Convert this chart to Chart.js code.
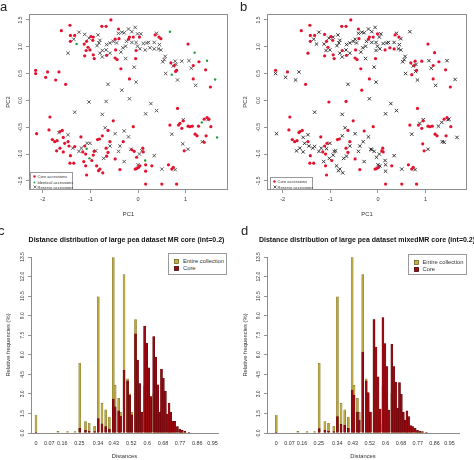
<!DOCTYPE html>
<html><head><meta charset="utf-8">
<script src="https://cdn.jsdelivr.net/npm/chart.js@4.4.1/dist/chart.umd.min.js"></script>
<style>
html,body{margin:0;padding:0;background:#fff;}
body{width:474px;height:460px;position:relative;overflow:hidden;font-family:"Liberation Sans",Arial,Helvetica,sans-serif;color:#222;}
.pane{position:absolute;}
.pane canvas{display:block;}
.letter{position:absolute;font-size:13px;line-height:13px;color:#222;}
.title{position:absolute;font-weight:bold;font-size:7px;line-height:8px;white-space:nowrap;color:#111;transform:translateX(-50%);}
.leg{position:absolute;border:1px solid #9a9a9a;background:#fff;box-sizing:border-box;}
.leg .row{position:absolute;white-space:nowrap;color:#333;}
.leg svg{position:absolute;}
</style></head><body>

<div class="pane" style="left:0;top:0;width:237px;height:225px"><canvas id="ca" width="237" height="225"></canvas></div>
<div class="pane" style="left:237px;top:0;width:237px;height:225px"><canvas id="cb" width="237" height="225"></canvas></div>
<div class="pane" style="left:0;top:225px;width:237px;height:235px"><canvas id="cc" width="237" height="235"></canvas></div>
<div class="pane" style="left:237px;top:225px;width:237px;height:235px"><canvas id="cd" width="237" height="235"></canvas></div>

<div class="letter" style="left:0;top:0">a</div>
<div class="letter" style="left:240px;top:0">b</div>
<div class="letter" style="left:-2px;top:224px">c</div>
<div class="letter" style="left:241px;top:224px">d</div>

<div class="title" style="left:126.5px;top:236px">Distance distribution of large pea dataset MR core (int=0.2)</div>
<div class="title" style="left:367px;top:236px">Distance distribution of large pea dataset mixedMR core (int=0.2)</div>

<div class="leg" style="left:30px;top:171.5px;width:43px;height:18px;font-size:4px;line-height:5px">
  <svg style="left:2px;top:2.5px" width="3" height="3"><circle cx="1.5" cy="1.5" r="1.2" fill="#e3122f"/></svg>
  <div class="row" style="left:6.5px;top:1.5px">Core accessions</div>
  <svg style="left:2px;top:8px" width="3" height="3"><circle cx="1.5" cy="1.5" r="0.9" fill="#1f9a3c"/></svg>
  <div class="row" style="left:6.5px;top:7px">Identical accessions</div>
  <svg style="left:1.5px;top:12.5px" width="4" height="4"><path d="M0.5 0.5L3.5 3.5M3.5 0.5L0.5 3.5" stroke="#555" stroke-width="0.8"/></svg>
  <div class="row" style="left:6.5px;top:12.3px">Reserve accessions</div>
</div>
<div class="leg" style="left:270px;top:176.5px;width:43px;height:13px;font-size:4px;line-height:5px">
  <svg style="left:2px;top:2.5px" width="3" height="3"><circle cx="1.5" cy="1.5" r="1.2" fill="#e3122f"/></svg>
  <div class="row" style="left:6.5px;top:1.5px">Core accessions</div>
  <svg style="left:1.5px;top:7.5px" width="4" height="4"><path d="M0.5 0.5L3.5 3.5M3.5 0.5L0.5 3.5" stroke="#333" stroke-width="0.8"/></svg>
  <div class="row" style="left:6.5px;top:7px">Reserve accessions</div>
</div>

<div class="leg" style="left:168px;top:253px;width:59px;height:22px;font-size:5.8px;line-height:7px">
  <svg style="left:5px;top:5px" width="5" height="5"><rect x="0.5" y="0.5" width="4" height="4" fill="#c4b04a" stroke="#6f6420" stroke-width="0.8"/></svg>
  <div class="row" style="left:14px;top:4px">Entire collection</div>
  <svg style="left:5px;top:12px" width="5" height="5"><rect x="0.5" y="0.5" width="4" height="4" fill="#9c0a14" stroke="#4a0508" stroke-width="0.8"/></svg>
  <div class="row" style="left:14px;top:11px">Core</div>
</div>
<div class="leg" style="left:407.5px;top:254px;width:59px;height:21px;font-size:5.8px;line-height:7px">
  <svg style="left:5px;top:4.5px" width="5" height="5"><rect x="0.5" y="0.5" width="4" height="4" fill="#c4b04a" stroke="#6f6420" stroke-width="0.8"/></svg>
  <div class="row" style="left:14px;top:3.5px">Entire collection</div>
  <svg style="left:5px;top:11.5px" width="5" height="5"><rect x="0.5" y="0.5" width="4" height="4" fill="#9c0a14" stroke="#4a0508" stroke-width="0.8"/></svg>
  <div class="row" style="left:14px;top:10.5px">Core</div>
</div>

<script>
// ---------- PCA scatter data (panels a, b) ----------
const pc1 = [
 -0.57,-1.43,-1.61,-0.76,-0.67,-0.41,-1.42,-1.33,-1.42,-1.08,-0.99,-0.95,-0.94,-0.48,-0.40,-0.18,-0.20,-0.10,0.03,0.36,0.44,0.48,-1.13,-1.05,-1.09,-1.12,-1.01,-0.94,-0.92,-0.66,-0.48,-0.47,-0.44,-0.36,-0.05,-0.04,-2.15,-2.15,-1.90,-1.94,-1.73,-1.66,-1.52,-0.18,0.69,0.76,0.81,0.79,0.83,1.05,1.16,1.16,1.28,1.42,1.52,
 -1.24,-1.12,-1.03,-1.35,-1.47,-0.84,-0.80,-0.82,-0.86,-0.75,-0.80,-0.75,-0.66,-0.59,-0.67,-0.59,-0.52,-0.45,-0.41,-0.34,-0.29,-0.20,-0.13,-0.06,-0.01,0.06,-0.26,-0.32,-0.36,-0.24,-0.13,-0.04,-0.01,0.04,0.11,0.18,0.22,0.15,0.25,0.34,0.34,0.39,0.45,0.43,0.48,0.57,0.55,0.52,0.58,0.74,0.78,0.80,0.83,0.92,1.07,1.12,1.21,-0.08,-0.26,-0.63,-0.34,-0.04,-0.18,-0.67,-1.03,0.27,0.39,0.16,-1.33,-0.75,
 -1.29,1.19,1.45,0.71,1.62,0.67,-1.02,0.15,1.34,1.66,-1.08,
 -2.13,-1.85,-1.87,-1.80,-1.75,-1.70,-1.64,-1.59,-1.57,-1.54,-1.47,-1.45,-1.71,-1.64,-1.57,-1.42,-1.43,-1.35,-1.33,-1.20,-1.12,-1.16,-1.10,-1.14,-1.10,-1.08,-0.97,-0.92,-0.94,-0.85,-0.81,-0.75,-0.87,-0.80,-0.83,-0.74,-0.67,-0.59,-0.63,-0.66,-0.52,-0.63,-0.48,-0.38,-0.31,-0.13,-0.08,-0.10,-0.03,0.10,0.11,-0.06,-0.03,0.01,0.04,0.16,0.16,0.16,0.29,0.50,0.67,0.64,0.71,0.74,0.81,0.85,0.88,0.92,0.95,0.97,1.05,1.09,1.14,1.20,1.24,1.27,1.39,1.45,1.49,1.53,1.43,1.39,
 -1.66,-1.47,-1.37,-1.24,-1.19,-1.07,-1.01,-0.89,-0.72,-0.59,-0.41,-0.38,-0.29,-0.15,0.03,0.00,0.08,0.34,0.50,0.71,0.78,0.95,0.94,1.05,1.35,1.47,-0.69,-0.48,-0.29,-0.20
];
const pc2 = [
 1.50,1.40,1.30,1.38,1.38,1.33,1.21,1.21,1.10,1.10,1.19,1.12,1.18,1.14,1.15,1.18,1.14,1.18,1.18,1.22,1.18,1.15,1.05,0.99,0.93,0.83,0.94,0.85,0.78,0.84,0.79,0.94,0.76,0.59,0.78,0.93,0.56,0.50,0.53,0.43,0.38,0.53,0.30,0.40,0.70,0.65,0.56,0.54,-0.15,1.05,0.65,0.40,0.72,0.57,0.25,
 1.27,1.23,1.16,1.14,0.88,1.22,1.12,1.07,1.02,0.93,0.88,0.81,1.04,1.07,0.94,0.88,1.10,1.07,1.25,1.27,1.26,1.33,1.28,1.36,1.24,1.24,1.01,0.98,0.90,1.10,1.08,1.08,1.01,0.96,1.06,1.07,1.08,0.94,0.98,1.08,0.96,1.25,1.04,0.96,0.94,0.82,0.76,0.72,0.50,0.64,0.73,0.67,0.38,0.73,0.74,0.60,0.28,0.62,0.78,0.30,0.19,0.34,0.03,-0.02,-0.03,-0.06,-0.19,-0.25,-0.22,-0.26,
 1.05,0.89,0.74,0.48,0.39,1.28,-1.08,-1.12,-0.41,-0.69,-0.90,
 -0.62,-0.31,-0.55,-0.73,-0.77,-0.75,-0.58,-0.56,-0.69,-0.80,-0.77,-0.85,-0.94,-0.89,-0.96,-1.03,-1.17,-1.17,-0.86,-0.68,-0.85,-0.96,-1.00,-1.14,-1.22,-1.39,-1.12,-0.95,-1.02,-0.73,-0.72,-0.66,-1.22,-1.28,-1.31,-1.35,-0.89,-0.77,-0.97,-1.04,-0.38,-0.56,-1.09,-1.29,-0.77,-0.92,-0.95,-0.49,-1.06,-0.89,-0.96,-1.28,-1.27,-1.25,-1.22,-1.20,-1.32,-1.56,-1.22,-1.56,-0.46,-1.20,-1.28,-1.25,-1.56,-0.46,-0.43,-0.52,-0.38,-0.94,-0.48,-0.49,-0.48,-0.63,-0.66,-0.48,-0.35,-0.32,-0.35,-0.49,-0.66,-0.78,
 -0.60,-0.64,-0.89,-0.95,-0.89,-0.80,-0.80,-0.94,-1.08,-0.85,-0.95,-0.85,-1.14,-0.91,-1.00,-1.20,-0.94,-1.03,-1.28,-0.63,-1.29,-0.36,-0.81,-0.91,-0.77,-0.36,-0.51,-0.62,-0.57,-0.68
];
// C = core, I = identical, R = reserve
const groupMR = ("CCCCC CCCCC CCCCC CCCCC CCCCC CCCCC CCCCC CCCCC CCCCC CCCCC CCCCC " +
 "RRRRR RRRRR RRRRR RRRRR RRRRR RRRRR RRRRR RRRRR RRRRR RRRRR RRRRR RRRRR RRRRR RRRRR " +
 "IIIII IIIII I " +
 "CCCCC CCCCC CCCCC CCCCC CCCCC CCCCC CCCCC CCCCC CCCCC CCCCC CCCCC CCCCC CCCCC CCCCC CCCCC CCCCC CC " +
 "RRRRR RRRRR RRRRR RRRRR RRRRR RRRRR").replace(/ /g,'').split('');
const groupMixedMR = ("CCCCCCCCCCCC" + "RRCCCCRCCRRCRCRCCCCCCCCRCRCRRRCCCCCRCCCCCCC" +
 "RCRRCRRRRC" + "RRRRRRRRRRRRRR" + "C" + "RRRRRRRRRRRR" + "CCRC" + "RRRRRRRRR" + "CRRC" + "RRRRRR" + "CRRCC" + "RRRRR" +
 "RCRCRRRRRRR" +
 "R"+"CCCCCCC"+"RR"+"C"+"RRRR"+"CCC"+"R"+"CCCC"+"R"+"CCC"+"RR"+"CC"+"RRRRR"+"CCC"+"R"+"CCCC"+"RRR"+"C"+"R"+"CCCCC"+"RRR"+"CCCCCCCCC"+"R"+"CCCCCCCC"+"R"+"CC"+"R"+"CC"+"R" +
 "CRRRRCRRRRRRRRRRCRRRRRCRRRRRCR").split('');
const pcXTicks = [-2, -1, 0, 1];
const pcYTicks = [-1.5, -1, -0.5, 0, 0.5, 1, 1.5];

// ---------- distance histograms (panels c, d) ----------
const binPos = [0, 11.8, 17, 21, 23.6, 26.7, 28.7, 31.6, 33.6, 35.6, 37.6, 39.6, 41.7, 42.7, 44.6, 45.6, 47.5, 49.4, 50.5, 51.7, 53.7, 54.8, 55.9, 57.1, 58.6, 59.7, 60.8, 61.9, 63.5, 64.6, 65.7, 66.7, 67.7, 68.7, 69.8, 70.9, 71.8, 72.7, 73.8, 74.9, 76.3, 77.6, 78.9, 80.3, 82.5];
const entireCollection = [1.38, 0.13, 0.1, 0.1, 5.35, 0.88, 0.75, 0.52, 10.45, 2.27, 1.77, 1.22, 13.45, 3.65, 2.65, 1.58, 12.15, 4.15, 3.0, 1.6, 8.7, 2.6, 1.7, 0.7, 3.6, 3.0, 2.2, 0.8, 3.0, 2.3, 1.6, 0.7, 1.7, 1.3, 0.7, 0.45, 0.75, 0.55, 0.25, 0.22, 0.15, 0.09, 0.06, 0.04, 0.02];
const coreMR = [0.05, 0, 0, 0, 0.35, 0.2, 0.15, 0.1, 1.1, 0.7, 0.5, 0.3, 2.6, 2.0, 1.7, 1.3, 4.8, 4.0, 2.9, 1.4, 7.6, 5.6, 3.8, 1.6, 8.2, 6.9, 5.0, 2.8, 7.4, 5.8, 3.7, 1.6, 4.9, 4.2, 3.2, 1.45, 2.3, 1.6, 0.9, 0.9, 0.5, 0.3, 0.2, 0.12, 0.05];
const coreMixedMR = [0.05, 0, 0, 0, 0.33, 0.2, 0.15, 0.1, 1.25, 0.66, 0.6, 0.35, 3.3, 2.9, 1.6, 1.0, 6.2, 4.0, 3.1, 1.6, 8.7, 6.6, 4.3, 1.84, 8.85, 6.85, 5.1, 1.76, 6.8, 5.1, 3.9, 1.9, 3.86, 2.97, 1.6, 1.0, 1.7, 1.25, 0.56, 0.5, 0.35, 0.2, 0.15, 0.1, 0.05];
const distTickPos = [0, 7.2, 14.1, 23.4, 33.5, 42, 51.4, 60, 68.5, 77.7, 87, 95.2];
const distTickLabels = ['0','0.07','0.16','0.25','0.34','0.43','0.52','0.6','0.68','0.77','0.86','0.95'];
const freqTicks = [0, 1.5, 3, 4.5, 6, 7.5, 9, 10.5, 12, 13.5];

const F = '"Liberation Sans", Arial, sans-serif';
Chart.defaults.font.family = F;
Chart.defaults.color = '#333';

const boxPlugin = {id:'box', afterDraw(c){
  const {ctx, chartArea:a} = c;
  ctx.save(); ctx.strokeStyle = '#8c8c8c'; ctx.lineWidth = 1;
  ctx.strokeRect(Math.round(a.left)+0.5, Math.round(a.top)+0.5, Math.round(a.right-a.left)-1, Math.round(a.bottom-a.top)-1);
  ctx.restore();
}};

function scatterPanel(id, groups, opt){
  const pts = g => pc1.map((x,i)=>({x:x, y:pc2[i]})).filter((p,i)=>groups[i]===g);
  const ds = [
    {label:'Core accessions', data:pts('C'), pointStyle:'circle', pointRadius:1.6, backgroundColor:'#e3122f', borderWidth:0},
  ];
  if (opt.identical) ds.push({label:'Identical accessions', data:pts('I'), pointStyle:'circle', pointRadius:1.2, backgroundColor:'#1f9a3c', borderWidth:0});
  ds.push({label:'Reserve accessions', data:pts('R'), pointStyle:'crossRot', pointRadius:2.4, borderColor:opt.cross, borderWidth:0.9, backgroundColor:'rgba(0,0,0,0)'});
  return new Chart(document.getElementById(id), {
    type:'scatter',
    data:{datasets:ds},
    options:{
      responsive:false, animation:false, devicePixelRatio:1,
      layout:{padding:{top:14, right:opt.padRight, left:0, bottom:0}},
      plugins:{legend:{display:false}, tooltip:{enabled:false}},
      scales:{
        x:{type:'linear', min:opt.xMin, max:opt.xMax,
           afterBuildTicks:s=>{s.ticks = pcXTicks.map(v=>({value:v}));},
           afterFit:s=>{s.height = 35;},
           ticks:{callback:v=>String(v), font:{size:5.6}, color:'#333', padding:3, maxRotation:0, autoSkip:false},
           grid:{drawOnChartArea:false, tickLength:3, color:'#777', lineWidth:0.8},
           border:{display:false},
           title:{display:true, text:'PC1', font:{size:5.8}, color:'#333', padding:{top:0, bottom:7}}},
        y:{type:'linear', min:-1.67, max:1.61,
           afterBuildTicks:s=>{s.ticks = pcYTicks.map(v=>({value:v}));},
           afterFit:s=>{s.width = opt.yWidth;},
           ticks:{callback:v=>v.toFixed(1), minRotation:90, maxRotation:90, crossAlign:'center', font:{size:5}, color:'#333', padding:1, autoSkip:false},
           grid:{drawOnChartArea:false, tickLength:3, color:'#777', lineWidth:0.8},
           border:{display:false},
           title:{display:true, text:'PC2', font:{size:5.8}, color:'#333', padding:{top:5, bottom:0}}}
      }
    },
    plugins:[boxPlugin]
  });
}

function histPanel(id, core, opt){
  return new Chart(document.getElementById(id), {
    type:'bar',
    data:{datasets:[
      {label:'Core', data:binPos.map((b,i)=>({x:b, y:core[i]})), backgroundColor:'#970a12', borderColor:'#5a0409', borderWidth:{left:0.4,right:0.4,top:0.4,bottom:0}, barThickness:2, grouped:false},
      {label:'Entire collection', data:binPos.map((b,i)=>({x:b, y:entireCollection[i]})), backgroundColor:'#bba943', borderColor:'#7d7028', borderWidth:{left:0.4,right:0.4,top:0.4,bottom:0}, barThickness:2, grouped:false}
    ]},
    options:{
      responsive:false, animation:false, devicePixelRatio:1,
      layout:{padding:{top:32, right:opt.padRight, left:0, bottom:0}},
      plugins:{legend:{display:false}, tooltip:{enabled:false}},
      scales:{
        x:{type:'linear', min:opt.xMin, max:opt.xMax, offset:false,
           afterBuildTicks:s=>{s.ticks = distTickPos.map(v=>({value:v}));},
           afterFit:s=>{s.height = 27;},
           ticks:{callback:(v,i)=>distTickLabels[i], font:{size:5.4}, color:'#333', padding:7, maxRotation:0, autoSkip:false},
           grid:{display:false, drawTicks:false, tickLength:0},
           border:{display:true, color:'#8c8c8c', width:1},
           title:{display:true, text:'Distances', font:{size:5.8}, color:'#333', padding:{top:0, bottom:0}}},
        y:{type:'linear', min:0, max:13.5,
           afterBuildTicks:s=>{s.ticks = freqTicks.map(v=>({value:v}));},
           afterFit:s=>{s.width = opt.yWidth;},
           ticks:{callback:v=>v.toFixed(1), minRotation:90, maxRotation:90, crossAlign:'center', font:{size:5}, color:'#333', padding:1, autoSkip:false},
           grid:{drawOnChartArea:false, tickLength:3, color:'#777', lineWidth:0.8},
           border:{display:true, color:'#8c8c8c', width:1},
           title:{display:true, text:'Relative frequencies (%)', font:{size:5.8}, color:'#333', padding:{top:5, bottom:0}}}
      }
    }
  });
}

scatterPanel('ca', groupMR, {identical:true, cross:'#4a4a4a', xMin:-2.29, xMax:1.89, padRight:9, yWidth:29});
scatterPanel('cb', groupMixedMR, {identical:false, cross:'#262626', xMin:-2.33, xMax:1.87, padRight:7, yWidth:30});
histPanel('cc', coreMR, {xMin:-2.7, xMax:98.2, padRight:19, yWidth:31});
histPanel('cd', coreMixedMR, {xMin:-5.1, xMax:100.4, padRight:15, yWidth:30});
</script>
</body></html>
